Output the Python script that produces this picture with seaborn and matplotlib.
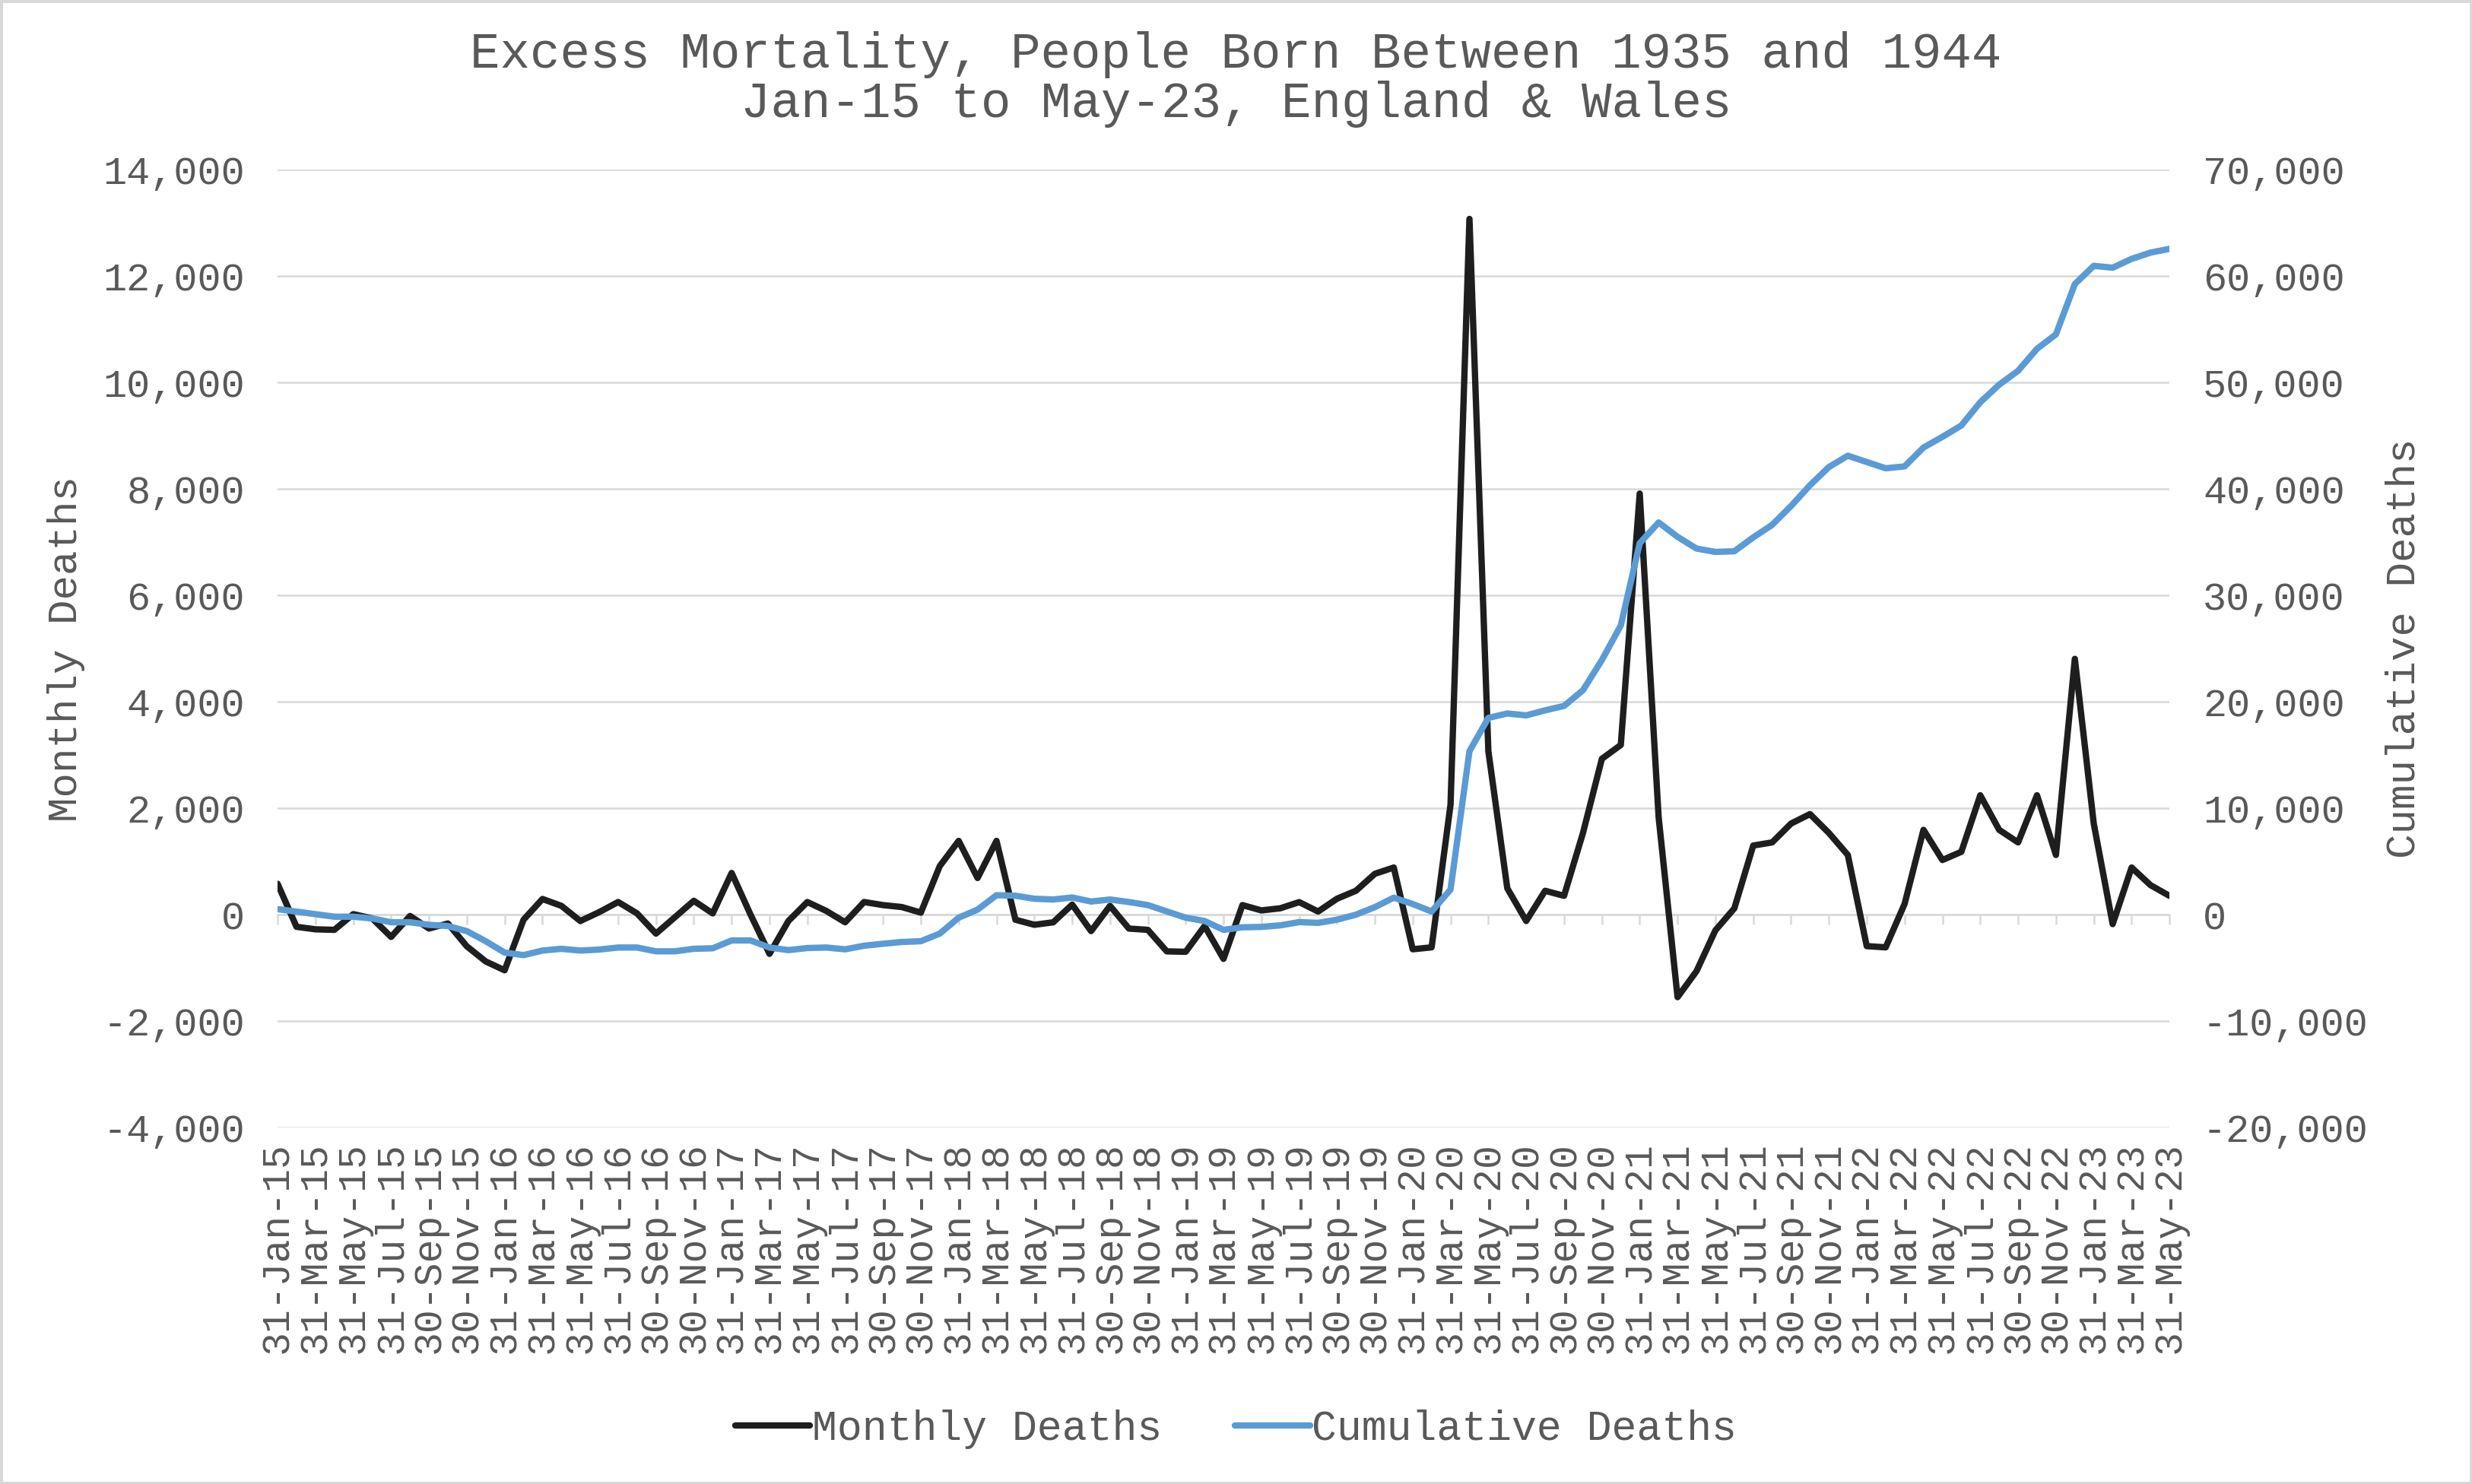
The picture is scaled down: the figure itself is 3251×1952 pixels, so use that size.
import numpy as np
import pandas as pd
import matplotlib
matplotlib.use('Agg')
import matplotlib.pyplot as plt
import seaborn as sns

# month-end categories, Jan-15 .. May-23
months = pd.date_range('2015-01-31', periods=101, freq='ME')
month_labels = [d.strftime('%d-%b-%y') for d in months]

monthly_deaths = [
    580, -228, -275, -285, 10, -70, -418, -24, -260, -166, -594, -879,
    -1045, -95, 295, 166, -119, 48, 238, 24, -356, -48, 261, 24,
    784, 0, -736, -119, 238, 71, -143, 238, 180, 143, 38, 912,
    1387, 689, 1387, -95, -190, -143, 190, -309, 166, -261, -285, -689,
    -698, -214, -831, 180, 80, 120, 236, 59, 300, 449, 768, 886,
    -650, -614, 2067, 13074, 3071, 496, -118, 449, 354, 1535, 2929, 3189,
    7913, 1831, -1550, -1063, -295, 118, 1299, 1358, 1712, 1890, 1535, 1122,
    -591, -614, 201, 1594, 1027, 1181, 2244, 1594, 1358, 2244, 1122, 4807,
    1712, -177, 886, 555, 354,
]

cumulative_deaths = [
    522, 285, 48, -190, -190, -356, -712, -712, -950, -1069, -1544, -2494,
    -3562, -3800, -3372, -3206, -3372, -3277, -3087, -3087, -3443, -3443, -3206, -3158,
    -2422, -2422, -3087, -3330, -3135, -3087, -3254, -2921, -2731, -2565, -2494, -1781,
    -285, 475, 1829, 1781, 1496, 1425, 1615, 1235, 1425, 1187, 902, 309,
    -285, -594, -1425, -1187, -1150, -1004, -700, -768, -472, 0, 709, 1595,
    1004, 295, 2363, 15358, 18489, 18902, 18725, 19198, 19611, 21088, 23923, 27172,
    34900, 36850, 35500, 34400, 34083, 34142, 35442, 36623, 38396, 40345, 42058, 43121,
    42530, 41940, 42117, 43889, 44893, 45957, 48142, 49796, 51096, 53163, 54522, 59248,
    60961, 60784, 61611, 62202, 62556,
]

df = pd.DataFrame({
    'pos': np.arange(len(months)),
    'label': month_labels,
    'monthly': monthly_deaths,
    'cumulative': cumulative_deaths,
})

sns.set_style('white')
plt.rcParams['font.family'] = ['Liberation Mono', 'DejaVu Sans Mono']

TXT = '#595959'
GRID = '#d9d9d9'
BLACK = '#1e1e1e'
BLUE = '#5b9bd5'

fig = plt.figure(figsize=(16.255, 9.76), dpi=200)
fig.patch.set_edgecolor(GRID)
fig.patch.set_linewidth(2.5)
ax = fig.add_axes([0.1123, 0.2402, 0.7653, 0.6455])
ax2 = ax.twinx()

line_kw = dict(lw=3.0, solid_joinstyle='round', solid_capstyle='round')
sns.lineplot(data=df, x='pos', y='monthly', ax=ax, color=BLACK, legend=False, **line_kw)
sns.lineplot(data=df, x='pos', y='cumulative', ax=ax2, color=BLUE, legend=False, **line_kw)

fmt = plt.FuncFormatter(lambda v, p: f'{v:,.0f}')

# left axis
ax.set_xlim(0, len(df) - 1)
ax.set_ylim(-4000, 14000)
ax.set_yticks(range(-4000, 14001, 2000))
ax.yaxis.set_major_formatter(fmt)
ax.grid(axis='y', color=GRID, lw=0.9)
ax.grid(axis='x', visible=False)
ax.set_xticks(df['pos'][::2])
ax.set_xticklabels(df['label'][::2], rotation=90)
ax.tick_params(axis='x', length=0, pad=7, labelsize=18.5, labelcolor=TXT)
ax.tick_params(axis='y', length=0, pad=15.5, labelsize=18.7, labelcolor=TXT)
ax.set_xlabel('')
ax.set_ylabel('Monthly Deaths', fontsize=19.5, color=TXT)
ax.yaxis.label.set_va('center')
ax.yaxis.set_label_coords(-0.1117, 0.5)

# right axis
ax2.set_ylim(-20000, 70000)
ax2.set_yticks(range(-20000, 70001, 10000))
ax2.yaxis.set_major_formatter(fmt)
ax2.grid(False)
ax2.tick_params(axis='y', length=0, pad=15.8, labelsize=18.7, labelcolor=TXT)
ax2.set_ylabel('Cumulative Deaths', fontsize=19.5, color=TXT)
ax2.yaxis.label.set_va('center')
ax2.yaxis.set_label_coords(1.124, 0.5)

for a in (ax, ax2):
    for s in a.spines.values():
        s.set_visible(False)

# category axis line with tick marks sitting on the zero line
zero_frac = (0 - (-4000)) / (14000 - (-4000))
sec = ax.secondary_xaxis(zero_frac)
sec.set_xticks(df['pos'][::2])
sec.tick_params(axis='x', direction='out', length=4.7, width=0.9, color=GRID, labelbottom=False)
sec.spines['bottom'].set_color(GRID)
sec.spines['bottom'].set_linewidth(0.9)

# title
fig.text(0.5, 1 - 72 / 1952, 'Excess Mortality, People Born Between 1935 and 1944',
         ha='center', va='center', fontsize=23.7, color=TXT)
fig.text(0.5, 1 - 137 / 1952, 'Jan-15 to May-23, England & Wales',
         ha='center', va='center', fontsize=23.7, color=TXT)

fig.legend([ax.lines[0], ax2.lines[0]], ['Monthly Deaths', 'Cumulative Deaths'],
           loc='center', bbox_to_anchor=(0.5, 0.037), ncol=2, frameon=False,
           handlelength=1.8, handletextpad=0.05, columnspacing=1.75,
           fontsize=19.7, labelcolor=TXT)

fig.savefig('out.png', dpi=200)
